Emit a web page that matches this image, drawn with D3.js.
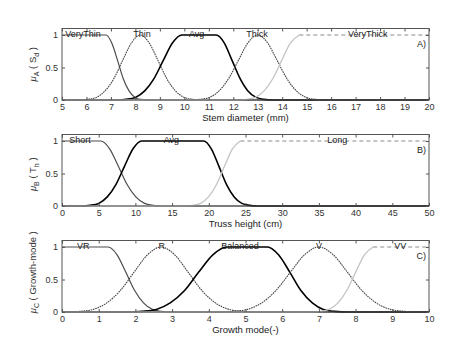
<!DOCTYPE html>
<html><head><meta charset="utf-8">
<script src="https://cdn.jsdelivr.net/npm/d3@7"></script>
<style>
body{margin:0;background:#fff;}
text{font-family:"Liberation Sans",Arial,sans-serif;}
</style></head>
<body><svg id="c" width="474" height="355"></svg>
<script>
// ---- Panel A: stem diameter (mm) ----
const aXTicks = [5,6,7,8,9,10,11,12,13,14,15,16,17,18,19,20];
const aVeryThin = [[5,1],[6.8,1],[7.03,0.88],[7.27,0.61],[7.5,0.33],[7.74,0.14],[7.98,0.04],[8.21,0.01],[8.6,0],[20,0]];
const aThin = [[5,0],[5.7,0],[6.04,0.01],[6.4,0.04],[6.76,0.14],[7.12,0.33],[7.48,0.61],[7.84,0.88],[8.2,1],[8.56,0.88],[8.92,0.61],[9.28,0.33],[9.64,0.14],[10,0.04],[10.36,0.01],[10.7,0],[20,0]];
const aAvg = [[5,0],[7.3,0],[7.62,0.01],[8,0.04],[8.38,0.14],[8.76,0.33],[9.14,0.61],[9.52,0.88],[9.9,1],[11.3,1],[11.63,0.88],[11.95,0.61],[12.28,0.33],[12.6,0.14],[12.93,0.04],[13.25,0.01],[13.6,0],[20,0]];
const aThick = [[5,0],[10.3,0],[10.63,0.01],[11.03,0.04],[11.42,0.14],[11.81,0.33],[12.21,0.61],[12.6,0.88],[13,1],[13.4,0.88],[13.79,0.61],[14.19,0.33],[14.58,0.14],[14.98,0.04],[15.37,0.01],[15.7,0],[20,0]];
const aVeryThick = [[5,0],[12.2,0],[12.54,0.01],[12.9,0.04],[13.26,0.14],[13.62,0.33],[13.98,0.61],[14.34,0.88],[14.7,1]];
const aVeryThickFlat = [[14.7,1],[20,1]];
const aLabels = [["VeryThin",5.86],["Thin",8.27],["Avg",10.5],["Thick",12.97],["VeryThick",17.5]];

// ---- Panel B: truss height (cm) ----
const bXTicks = [0,5,10,15,20,25,30,35,40,45,50];
const bShort = [[0,1],[5.3,1],[6.49,0.88],[7.68,0.61],[8.87,0.33],[10.06,0.14],[11.25,0.04],[12.44,0.01],[13.6,0],[50,0]];
const bAvg = [[0,0],[2.7,0],[3.83,0.01],[5,0.04],[6.17,0.14],[7.34,0.33],[8.51,0.61],[9.68,0.88],[10.85,1],[19.3,1],[20.34,0.88],[21.38,0.61],[22.42,0.33],[23.46,0.14],[24.5,0.04],[25.54,0.01],[26.6,0],[50,0]];
const bLong = [[0,0],[16.7,0],[17.79,0.01],[18.88,0.04],[19.96,0.14],[21.05,0.33],[22.13,0.61],[23.22,0.88],[24.3,1]];
const bLongFlat = [[24.3,1],[50,1]];
const bLabels = [["Short",2.45],["Avg",14.9],["Long",37.5]];

// ---- Panel C: growth mode ----
const cXTicks = [0,1,2,3,4,5,6,7,8,9,10];
const cVR = [[0,1],[1.26,1],[1.5,0.88],[1.74,0.61],[1.98,0.33],[2.22,0.14],[2.46,0.04],[2.7,0.01],[3,0],[10,0]];
const cR = [[0,0],[0.3,0],[0.48,0.01],[0.85,0.04],[1.22,0.14],[1.59,0.33],[1.96,0.61],[2.33,0.88],[2.7,1],[3.07,0.88],[3.44,0.61],[3.81,0.33],[4.18,0.14],[4.55,0.04],[4.92,0.01],[5.3,0],[10,0]];
const cBalanced = [[0,0],[1.9,0],[2.18,0.01],[2.57,0.04],[2.95,0.14],[3.34,0.33],[3.72,0.61],[4.11,0.88],[4.49,1],[5.6,1],[5.9,0.88],[6.21,0.61],[6.51,0.33],[6.82,0.14],[7.12,0.04],[7.43,0.01],[7.8,0],[10,0]];
const cV = [[0,0],[4.3,0],[4.66,0.01],[5.05,0.04],[5.44,0.14],[5.83,0.33],[6.22,0.61],[6.61,0.88],[7,1],[7.39,0.88],[7.78,0.61],[8.17,0.33],[8.56,0.14],[8.95,0.04],[9.34,0.01],[9.7,0],[10,0]];
const cVV = [[0,0],[6.8,0],[7.04,0.01],[7.28,0.04],[7.52,0.14],[7.76,0.33],[8,0.61],[8.24,0.88],[8.48,1]];
const cVVFlat = [[8.48,1],[10,1]];
const cLabels = [["VR",0.58],["R",2.72],["Balanced",4.85],["V",7.0],["VV",9.22]];

const yTicks = [0,0.5,1];

const styles = {
  low:  {stroke:"#4d4d4d", width:1.2, dash:null},
  mid:  {stroke:"#444", width:1.1, dash:"1.6,0.8"},
  avg:  {stroke:"#000", width:1.6, dash:null},
  high: {stroke:"#c4c4c4", width:1.3, dash:null},
  flat: {stroke:"#8a8a8a", width:1, dash:"4,3"}
};

const svg = d3.select("#c");
const L = 62, R = 429;

function panel(cfg){
  const x = d3.scaleLinear().domain(cfg.xdom).range([L,R]);
  const y = d3.scaleLinear().domain([0,1.1]).range([cfg.y0, cfg.y0 - 71.5]);
  const g = svg.append("g");
  const top = y(1.1), bot = y(0);
  const line = d3.line().x(d=>x(d[0])).y(d=>y(d[1])).curve(d3.curveMonotoneX);
  cfg.series.forEach(s=>{
    const st = styles[s[1]];
    g.append("path").datum(s[0]).attr("d",line).attr("fill","none")
      .attr("stroke",st.stroke).attr("stroke-width",st.width)
      .attr("stroke-dasharray",st.dash);
  });
  const tickStyle = sel => { sel.select(".domain").remove(); sel.selectAll("line").attr("stroke","#555"); sel.selectAll("text").attr("fill","#333").style("font-size","9px"); };
  const xb = g.append("g").attr("transform",`translate(0,${bot})`)
    .call(d3.axisBottom(x).tickValues(cfg.xticks).tickSizeInner(-3).tickSizeOuter(0).tickPadding(4).tickFormat(d3.format("d")));
  tickStyle(xb);
  const xt = g.append("g").attr("transform",`translate(0,${top})`)
    .call(d3.axisTop(x).tickValues(cfg.xticks).tickSizeInner(-3).tickSizeOuter(0).tickFormat(""));
  tickStyle(xt);
  const yl = g.append("g").attr("transform",`translate(${L},0)`)
    .call(d3.axisLeft(y).tickValues(yTicks).tickSizeInner(-3).tickSizeOuter(0).tickPadding(4).tickFormat(d=>d===0.5?"0.5":d3.format("d")(d)));
  tickStyle(yl);
  const yr = g.append("g").attr("transform",`translate(${R},0)`)
    .call(d3.axisRight(y).tickValues(yTicks).tickSizeInner(-3).tickSizeOuter(0).tickFormat(""));
  tickStyle(yr);
  g.append("rect").attr("x",L).attr("y",top).attr("width",R-L).attr("height",bot-top)
    .attr("fill","none").attr("stroke","#555").attr("stroke-width",1);
  cfg.labels.forEach(l=>{
    g.append("text").attr("x",x(l[1])).attr("y",y(1)+1.5).attr("text-anchor","middle")
      .style("font-size","9px").attr("fill","#222").text(l[0]);
  });
  g.append("text").attr("x",R-3).attr("y",y(1)+12).attr("text-anchor","end")
    .style("font-size","9px").attr("fill","#222").text(cfg.tag);
  g.append("text").attr("x",(L+R)/2).attr("y",bot+21).attr("text-anchor","middle")
    .style("font-size","9.5px").attr("fill","#222").text(cfg.xlabel);
  const yt = g.append("text").attr("transform",`translate(36,${(top+bot)/2+cfg.yoff}) rotate(-90)`)
    .attr("text-anchor","middle").style("font-size","9.5px").attr("fill","#333");
  yt.append("tspan").style("font-style","italic").text("\u03bc");
  yt.append("tspan").attr("dy",3).style("font-size","7px").text(cfg.ysub);
  yt.append("tspan").attr("dy",-3).text(" ( " + cfg.yvar);
  if(cfg.yvarSub){
    yt.append("tspan").attr("dy",3).style("font-size","7px").text(cfg.yvarSub);
    yt.append("tspan").attr("dy",-3).text(" )");
  } else {
    yt.append("tspan").text(" )");
  }
}

panel({xdom:[5,20], y0:100, xticks:aXTicks, tag:"A)", xlabel:"Stem diameter (mm)",
  ysub:"A", yvar:"S", yvarSub:"d", yoff:0, labels:aLabels,
  series:[[aVeryThin,"low"],[aThin,"mid"],[aAvg,"avg"],[aThick,"mid"],[aVeryThick,"high"],[aVeryThickFlat,"flat"]]});
panel({xdom:[0,50], y0:206, xticks:bXTicks, tag:"B)", xlabel:"Truss height (cm)",
  ysub:"B", yvar:"T", yvarSub:"h", yoff:4, labels:bLabels,
  series:[[bShort,"low"],[bAvg,"avg"],[bLong,"high"],[bLongFlat,"flat"]]});
panel({xdom:[0,10], y0:312, xticks:cXTicks, tag:"C)", xlabel:"Growth mode(-)",
  ysub:"C", yvar:"Growth-mode", yvarSub:null, yoff:-4, labels:cLabels,
  series:[[cVR,"low"],[cR,"mid"],[cBalanced,"avg"],[cV,"mid"],[cVV,"high"],[cVVFlat,"flat"]]});
</script></body></html>
